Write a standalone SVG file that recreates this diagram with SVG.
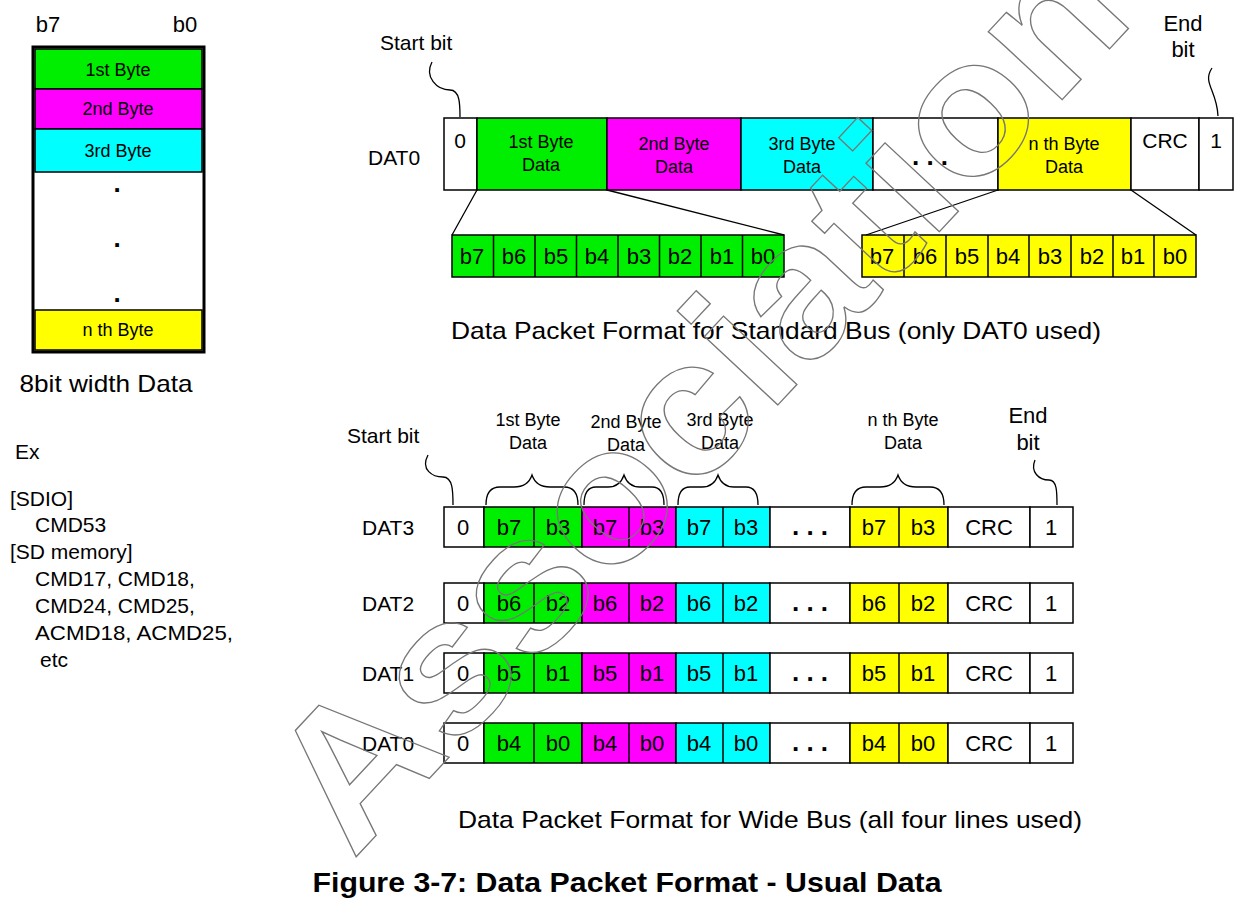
<svg xmlns="http://www.w3.org/2000/svg" width="1248" height="903" viewBox="0 0 1248 903">
<style>
text{font-family:"Liberation Sans",Arial,sans-serif;fill:#000}
.c{stroke:#000;stroke-width:1.5}
.t18{font-size:21px;text-anchor:middle}
.t20{font-size:22px;text-anchor:middle}
.t17{font-size:18px;text-anchor:middle}
.l{font-size:21px}
.d{font-size:26px;font-weight:bold;text-anchor:middle}
.ln{fill:none;stroke:#000;stroke-width:1.3}
.g{fill:#00ee00}.m{fill:#ff00ff}.cy{fill:#00ffff}.y{fill:#ffff00}.w{fill:#fff}
</style>
<rect width="1248" height="903" fill="#fff"/>
<g id="bytes8">
<text x="48" y="32" class="t20">b7</text><text x="185" y="32" class="t20">b0</text>
<rect x="33" y="47" width="171" height="305" class="w" stroke="#000" stroke-width="3"/>
<rect x="35" y="49" width="167" height="40" class="g c"/>
<rect x="35" y="89" width="167" height="40" class="m c"/>
<rect x="35" y="129" width="167" height="43" class="cy c"/>
<rect x="35" y="310" width="167" height="40" class="y c"/>
<text x="118" y="76" class="t17">1st Byte</text><text x="118" y="115" class="t17">2nd Byte</text>
<text x="118" y="157" class="t17">3rd Byte</text><text x="118" y="336" class="t17">n th Byte</text>
<text x="117" y="192" class="d">.</text><text x="117" y="247" class="d">.</text><text x="117" y="302" class="d">.</text>
<text x="106" y="392" font-size="24" text-anchor="middle" textLength="173" lengthAdjust="spacingAndGlyphs">8bit width Data</text>
</g>
<g id="ex">
<text x="15" y="459" class="l">Ex</text>
<text x="10" y="506" class="l">[SDIO]</text>
<text x="35" y="532" class="l">CMD53</text>
<text x="10" y="559" class="l">[SD memory]</text>
<text x="35" y="586" class="l">CMD17, CMD18,</text>
<text x="35" y="613" class="l">CMD24, CMD25,</text>
<text x="35" y="640" class="l" textLength="198" lengthAdjust="spacingAndGlyphs">ACMD18, ACMD25,</text>
<text x="40" y="667" class="l">etc</text>
</g>
<g id="std">
<text x="380" y="50" class="l">Start bit</text>
<text x="1183" y="31" class="t20">End</text><text x="1183" y="57" class="t20">bit</text>
<text x="368" y="165" class="l">DAT0</text>
<rect x="444" y="118" width="33" height="72" class="w c"/>
<rect x="477" y="118" width="130" height="72" class="g c"/>
<rect x="607" y="118" width="134" height="72" class="m c"/>
<rect x="741" y="118" width="132" height="72" class="cy c"/>
<rect x="873" y="118" width="125" height="72" class="w c"/>
<rect x="998" y="118" width="133" height="72" class="y c"/>
<rect x="1131" y="118" width="68" height="72" class="w c"/>
<rect x="1199" y="118" width="34" height="72" class="w c"/>
<text x="460" y="148" class="t18">0</text>
<text x="541" y="148" class="t17">1st Byte</text><text x="541" y="171" class="t17">Data</text>
<text x="674" y="150" class="t17">2nd Byte</text><text x="674" y="173" class="t17">Data</text>
<text x="802" y="150" class="t17">3rd Byte</text><text x="802" y="173" class="t17">Data</text>
<text x="930" y="165" class="d">. . .</text>
<text x="1064" y="150" class="t17">n th Byte</text><text x="1064" y="173" class="t17">Data</text>
<text x="1165" y="148" class="t18">CRC</text><text x="1216" y="148" class="t18">1</text>
<g id="gbits">
<rect x="452" y="235" width="332" height="42" class="g c"/>
<g class="c"><path d="M493.5 235v42M535 235v42M576.5 235v42M618 235v42M659.5 235v42M701 235v42M742.5 235v42"/></g>
<text x="472" y="264" class="t20">b7</text><text x="514" y="264" class="t20">b6</text><text x="556" y="264" class="t20">b5</text><text x="597" y="264" class="t20">b4</text><text x="639" y="264" class="t20">b3</text><text x="680" y="264" class="t20">b2</text><text x="722" y="264" class="t20">b1</text><text x="763" y="264" class="t20">b0</text>
</g>
<g id="ybits">
<rect x="862" y="235" width="334" height="42" class="y c"/>
<g class="c"><path d="M904 235v42M946 235v42M988 235v42M1029 235v42M1071 235v42M1113 235v42M1154 235v42"/></g>
<text x="882" y="264" class="t20">b7</text><text x="925" y="264" class="t20">b6</text><text x="967" y="264" class="t20">b5</text><text x="1008" y="264" class="t20">b4</text><text x="1050" y="264" class="t20">b3</text><text x="1092" y="264" class="t20">b2</text><text x="1133" y="264" class="t20">b1</text><text x="1175" y="264" class="t20">b0</text>
</g>
<text x="776" y="339" font-size="24" text-anchor="middle" textLength="650" lengthAdjust="spacingAndGlyphs">Data Packet Format for Standard Bus (only DAT0 used)</text>
</g>
<g id="wide">
<text x="347" y="443" class="l">Start bit</text>
<text x="1028" y="423" class="t20">End</text><text x="1028" y="450" class="t20">bit</text>
<text x="528" y="426" class="t17">1st Byte</text><text x="528" y="449" class="t17">Data</text>
<text x="626" y="428" class="t17">2nd Byte</text><text x="626" y="451" class="t17">Data</text>
<text x="720" y="426" class="t17">3rd Byte</text><text x="720" y="449" class="t17">Data</text>
<text x="903" y="426" class="t17">n th Byte</text><text x="903" y="449" class="t17">Data</text>
<g class="ln">
<path d="M486 505q0-18 14-18h14q14 0 18-12q4 12 18 12h14q14 0 14 18"/>
<path d="M584 505q0-18 12-18h12q12 0 16-12q4 12 16 12h12q12 0 12 18"/>
<path d="M678 505q0-18 12-18h12q12 0 16-12q4 12 16 12h12q12 0 12 18"/>
<path d="M852 505q0-18 14-18h14q14 0 18-12q4 12 18 12h14q14 0 14 18"/>
</g>
</g>
<g id="rows">
<g id="dat3" transform="translate(0,507)">
<text x="362" y="28" class="l">DAT3</text>
<rect x="444" width="40" height="40" class="w c"/><rect x="484" width="98" height="40" class="g c"/><rect x="582" width="94" height="40" class="m c"/><rect x="676" width="94" height="40" class="cy c"/><rect x="770" width="80" height="40" class="w c"/><rect x="850" width="98" height="40" class="y c"/><rect x="948" width="82" height="40" class="w c"/><rect x="1030" width="43" height="40" class="w c"/>
<path d="M534 0v40M629 0v40M723 0v40M899 0v40" class="c"/>
<text x="463" y="28" class="t20">0</text><text x="509" y="28" class="t20">b7</text><text x="558" y="28" class="t20">b3</text><text x="605" y="28" class="t20">b7</text><text x="652" y="28" class="t20">b3</text><text x="699" y="28" class="t20">b7</text><text x="746" y="28" class="t20">b3</text><text x="810" y="28" class="d">. . .</text><text x="874" y="28" class="t20">b7</text><text x="923" y="28" class="t20">b3</text><text x="989" y="28" class="t20">CRC</text><text x="1051" y="28" class="t20">1</text>
</g>
<g id="dat2" transform="translate(0,583)">
<text x="362" y="28" class="l">DAT2</text>
<rect x="444" width="40" height="40" class="w c"/><rect x="484" width="98" height="40" class="g c"/><rect x="582" width="94" height="40" class="m c"/><rect x="676" width="94" height="40" class="cy c"/><rect x="770" width="80" height="40" class="w c"/><rect x="850" width="98" height="40" class="y c"/><rect x="948" width="82" height="40" class="w c"/><rect x="1030" width="43" height="40" class="w c"/>
<path d="M534 0v40M629 0v40M723 0v40M899 0v40" class="c"/>
<text x="463" y="28" class="t20">0</text><text x="509" y="28" class="t20">b6</text><text x="558" y="28" class="t20">b2</text><text x="605" y="28" class="t20">b6</text><text x="652" y="28" class="t20">b2</text><text x="699" y="28" class="t20">b6</text><text x="746" y="28" class="t20">b2</text><text x="810" y="28" class="d">. . .</text><text x="874" y="28" class="t20">b6</text><text x="923" y="28" class="t20">b2</text><text x="989" y="28" class="t20">CRC</text><text x="1051" y="28" class="t20">1</text>
</g>
<g id="dat1" transform="translate(0,653)">
<text x="362" y="28" class="l">DAT1</text>
<rect x="444" width="40" height="40" class="w c"/><rect x="484" width="98" height="40" class="g c"/><rect x="582" width="94" height="40" class="m c"/><rect x="676" width="94" height="40" class="cy c"/><rect x="770" width="80" height="40" class="w c"/><rect x="850" width="98" height="40" class="y c"/><rect x="948" width="82" height="40" class="w c"/><rect x="1030" width="43" height="40" class="w c"/>
<path d="M534 0v40M629 0v40M723 0v40M899 0v40" class="c"/>
<text x="463" y="28" class="t20">0</text><text x="509" y="28" class="t20">b5</text><text x="558" y="28" class="t20">b1</text><text x="605" y="28" class="t20">b5</text><text x="652" y="28" class="t20">b1</text><text x="699" y="28" class="t20">b5</text><text x="746" y="28" class="t20">b1</text><text x="810" y="28" class="d">. . .</text><text x="874" y="28" class="t20">b5</text><text x="923" y="28" class="t20">b1</text><text x="989" y="28" class="t20">CRC</text><text x="1051" y="28" class="t20">1</text>
</g>
<g id="dat0" transform="translate(0,723)">
<text x="362" y="28" class="l">DAT0</text>
<rect x="444" width="40" height="40" class="w c"/><rect x="484" width="98" height="40" class="g c"/><rect x="582" width="94" height="40" class="m c"/><rect x="676" width="94" height="40" class="cy c"/><rect x="770" width="80" height="40" class="w c"/><rect x="850" width="98" height="40" class="y c"/><rect x="948" width="82" height="40" class="w c"/><rect x="1030" width="43" height="40" class="w c"/>
<path d="M534 0v40M629 0v40M723 0v40M899 0v40" class="c"/>
<text x="463" y="28" class="t20">0</text><text x="509" y="28" class="t20">b4</text><text x="558" y="28" class="t20">b0</text><text x="605" y="28" class="t20">b4</text><text x="652" y="28" class="t20">b0</text><text x="699" y="28" class="t20">b4</text><text x="746" y="28" class="t20">b0</text><text x="810" y="28" class="d">. . .</text><text x="874" y="28" class="t20">b4</text><text x="923" y="28" class="t20">b0</text><text x="989" y="28" class="t20">CRC</text><text x="1051" y="28" class="t20">1</text>
</g>
<text x="770" y="828" font-size="24" text-anchor="middle" textLength="624" lengthAdjust="spacingAndGlyphs">Data Packet Format for Wide Bus (all four lines used)</text>
<text x="627" y="892" font-size="28" font-weight="bold" text-anchor="middle" textLength="629" lengthAdjust="spacingAndGlyphs">Figure 3-7: Data Packet Format - Usual Data</text>
</g>
<g id="connectors" class="ln">
<path d="M432 62c-8 15 5 28 18 28c10 0 10 15 10 27"/>
<path d="M1212 68c-10 15 5 22 6 48"/>
<path d="M477 190L452 235M607 190L784 235M998 190L866 235M1131 190L1196 235"/>
<path d="M428 455c-8 15 5 22 15 22c10 0 10 15 10 28"/>
<path d="M1035 460c-5 12 4 20 14 20c8 0 8 12 8 25"/>
</g>
<text x="745" y="440" transform="rotate(-47 745 440)" text-anchor="middle" font-size="190" font-weight="bold" textLength="1150" lengthAdjust="spacingAndGlyphs" style="fill:none;stroke:#777;stroke-width:1.3">Association</text>
</svg>
